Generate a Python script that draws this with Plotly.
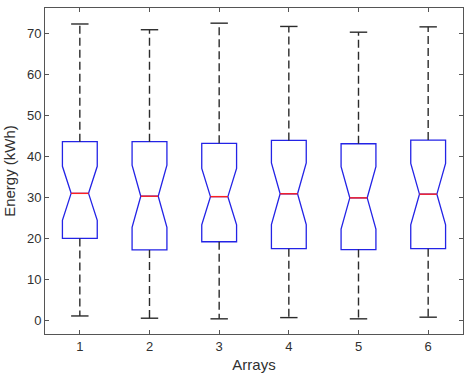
import plotly.graph_objects as go

arrays = [1, 2, 3, 4, 5, 6]
tick_labels = ["1", "2", "3", "4", "5", "6"]
q1 = [20.1, 17.3, 19.3, 17.6, 17.4, 17.6]
median = [31.1, 30.4, 30.3, 31.0, 30.0, 30.9]
q3 = [43.7, 43.7, 43.3, 44.0, 43.2, 44.1]
wmin = [1.2, 0.65, 0.5, 0.8, 0.5, 0.9]
wmax = [72.4, 71.0, 72.6, 71.8, 70.4, 71.7]
notch = [6.6, 7.6, 6.9, 7.5, 7.6, 7.5]

BOX_W = 0.5
CAP_HALF = 0.125
MED_HALF = 0.125
WHISK_COLOR = "#2b2b2b"
FONT = "Liberation Sans, Arial"
TXT = "#303030"

fig = go.Figure()

# dashed whiskers
wx, wy = [], []
for x, a, b, lo, hi in zip(arrays, q1, q3, wmin, wmax):
    wx += [x, x, None, x, x, None]
    wy += [b, hi, None, a, lo, None]
fig.add_trace(go.Scatter(x=wx, y=wy, mode="lines", hoverinfo="skip",
                         line=dict(color=WHISK_COLOR, width=1.4, dash="8px,4px")))

# caps
cx, cy = [], []
for x, lo, hi in zip(arrays, wmin, wmax):
    cx += [x - CAP_HALF, x + CAP_HALF, None, x - CAP_HALF, x + CAP_HALF, None]
    cy += [hi, hi, None, lo, lo, None]
fig.add_trace(go.Scatter(x=cx, y=cy, mode="lines", hoverinfo="skip",
                         line=dict(color=WHISK_COLOR, width=1.4)))

# notched boxes
fig.add_trace(go.Box(
    x=arrays, q1=q1, median=median, q3=q3,
    lowerfence=q1, upperfence=q3, notchspan=notch,
    notched=True, notchwidth=0.25, width=BOX_W, whiskerwidth=0,
    boxpoints=False, line=dict(color="#2323e6", width=1.3),
    fillcolor="rgba(255,255,255,0)", hoverinfo="skip",
))

# red medians
mx, my = [], []
for x, m in zip(arrays, median):
    mx += [x - MED_HALF, x + MED_HALF, None]
    my += [m, m, None]
fig.add_trace(go.Scatter(x=mx, y=my, mode="lines", hoverinfo="skip",
                         line=dict(color="#ff2020", width=1.4)))

axis_common = dict(
    showline=True, linecolor="#555555", linewidth=1, mirror="ticks",
    ticks="inside", ticklen=4, tickcolor="#555555", showgrid=False,
    zeroline=False, tickfont=dict(family=FONT, size=13, color=TXT),
)

fig.update_layout(
    width=474, height=379, margin=dict(l=45, r=11, t=8, b=45),
    paper_bgcolor="white", plot_bgcolor="white", showlegend=False,
    xaxis=dict(range=[0.5, 6.5], tickvals=arrays, ticktext=tick_labels,
               title=dict(text="Arrays", font=dict(family=FONT, size=15, color=TXT), standoff=6),
               **axis_common),
    yaxis=dict(range=[-3.2, 76.3], tickvals=[0, 10, 20, 30, 40, 50, 60, 70],
               title=dict(text="Energy (kWh)", font=dict(family=FONT, size=15, color=TXT), standoff=7),
               **axis_common),
)

fig.write_html("out.html")
